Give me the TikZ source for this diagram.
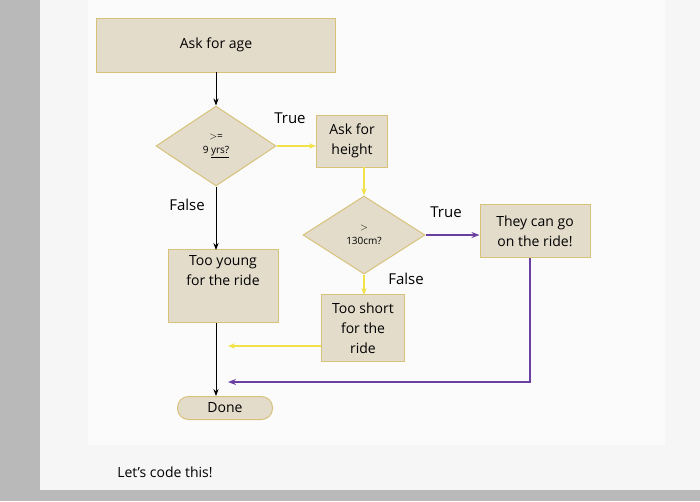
\documentclass[tikz,border=0pt]{standalone}
\usepackage{fontspec}
\setmainfont{Open Sans}
\usetikzlibrary{shapes.geometric,arrows.meta}
\definecolor{boxfill}{HTML}{E3DCCB}
\definecolor{boxline}{HTML}{D8C27A}
\definecolor{yel}{HTML}{F2E24A}
\definecolor{pur}{HTML}{6A3FA0}
\tikzset{
 box/.style={draw=boxline,fill=boxfill,line width=1pt,align=center,font=\fontsize{14}{20}\selectfont,inner sep=0pt},
 dia/.style={diamond,draw=boxline,fill=boxfill,line width=1pt,align=center,font=\fontsize{10}{14}\selectfont,inner sep=0pt,aspect=1.4},
 lbl/.style={font=\fontsize{15}{18}\selectfont},
 blk/.style={line width=1pt,-{Stealth[length=7pt]}},
 yl/.style={draw=yel,line width=1.5pt,-{Stealth[length=7pt]}},
 pl/.style={draw=pur,line width=2pt,-{Stealth[length=8pt]}}
}
\begin{document}
\begin{tikzpicture}[x=1pt,y=-1pt]
\useasboundingbox (0,0) rectangle (700,501);
\fill[gray!55] (0,0) rectangle (700,501);
\fill[white!93!gray] (40,0) rectangle (700,490);
\fill[white!97!gray] (88,0) rectangle (665,445);
\node[box,minimum width=239pt,minimum height=54pt] (age) at (216,45) {Ask for age};
\node[dia,minimum width=120pt,minimum height=80pt] (d1) at (216,146) {$>$=\\9 \underline{yrs?}};
\node[box,minimum width=71pt,minimum height=52pt] (height) at (352,141) {Ask for\\height};
\node[dia,minimum width=122pt,minimum height=78pt] (d2) at (364,235) {$>$\\130cm?};
\node[box,minimum width=110pt,minimum height=53pt] (they) at (535,231) {They can go\\on the ride!};
\node[box,minimum width=110pt,minimum height=73pt] (young) at (223,286) {Too young\\for the ride\\[12pt]};
\node[box,minimum width=83pt,minimum height=67pt] (short) at (363,328) {Too short\\for the\\ride};
\node[box,rounded corners=11pt,minimum width=95pt,minimum height=23pt] (done) at (225,408) {Done};
\node[lbl] at (290,118) {True};
\node[lbl] at (446,212) {True};
\node[lbl] at (187,205) {False};
\node[lbl] at (406,279) {False};
\node[font=\fontsize{14}{16}\selectfont] at (165,472) {Let's code this!};
\draw[blk] (216,72) -- (d1.north);
\draw[yl] (d1.east) -- (height.west |- d1.east);
\draw[yl] (364,167) -- (d2.north);
\draw[pl] (d2.east) -- (they.west |- d2.east);
\draw[blk] (d1.south) -- (216,250);
\draw[yl] (d2.south) -- (364,295);
\coordinate (m1) at (216,346);
\draw[yl] (short.west |- m1) -- (228,346);
\draw[blk] (216,323) -- (done.north -| 216,0);
\coordinate (m2) at (228,382);
\draw[pl] (530,258) -- (530,382) -- (m2);
\end{tikzpicture}
\end{document}
